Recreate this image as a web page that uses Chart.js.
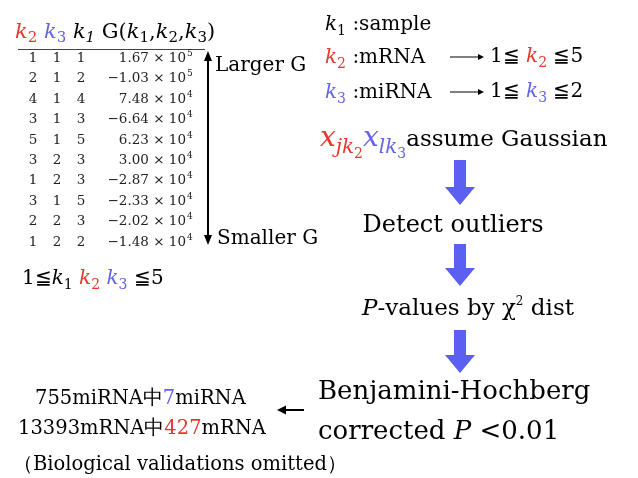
<!DOCTYPE html><html><head><meta charset="utf-8">
<script src="https://cdn.jsdelivr.net/npm/chart.js@4"></script>
<style>html,body{margin:0;background:#fff}#w{width:638px;height:478px}</style></head><body>
<div id="w"><canvas id="c"></canvas></div>
<script>
const k2s=[1,2,4,3,5,3,1,3,2,1];
const k3s=[1,1,1,1,1,2,2,1,2,2];
const k1s=[1,2,4,3,5,3,3,5,3,2];
const mantissas=["1.67","\u22121.03","7.48","\u22126.64","6.23","3.00","\u22122.87","\u22122.33","\u22122.02","\u22121.48"];
const exponents=[5,5,4,4,4,4,4,4,4,4];
const RED="#e8362e",BLUE="#6464e6",ARW="#5b5ff2",SERIF="'DejaVu Serif','Liberation Serif',serif";
const plugin={id:'dia',afterDraw(ch){
 const c=ch.ctx,X=v=>ch.scales.x.getPixelForValue(v),Y=v=>ch.scales.y.getPixelForValue(v);
 c.save();c.textBaseline='alphabetic';
 function rich(x,y,segs,base){let cx=X(x);for(const s of segs){const sz=s[3]||base;c.font=(s[2]||'')+' '+sz+'px '+SERIF;c.fillStyle=s[1]||'#000';c.fillText(s[0],cx,Y(y)+(s[4]||0));cx+=c.measureText(s[0]).width;}return cx;}
 function width(segs,base){let w=0;for(const s of segs){c.font=(s[2]||'')+' '+(s[3]||base)+'px '+SERIF;w+=c.measureText(s[0]).width;}return w;}
 rich(15,38,[["k",RED,"italic"],["2",RED,"",15,4],[" "],["k",BLUE,"italic"],["3",BLUE,"",15,4],[" "],["k",null,"italic"],["1",null,"italic",15,4],[" G("],["k",null,"italic"],["1",null,"",15,4],[","],["k",null,"italic"],["2",null,"",15,4],[","],["k",null,"italic"],["3",null,"",15,4],[")"]],21);
 c.strokeStyle='#444';c.lineWidth=1;c.beginPath();c.moveTo(X(18),Y(49.5));c.lineTo(X(205),Y(49.5));c.stroke();
 for(let i=0;i<k2s.length;i++){const y=62+i*20.4;c.font='13.5px '+SERIF;c.fillStyle='#222';c.textAlign='center';
  c.fillText(k2s[i],X(33),Y(y));c.fillText(k3s[i],X(57),Y(y));c.fillText(k1s[i],X(81),Y(y));
  c.textAlign='right';c.fillText(mantissas[i]+" \u00d7 10",X(186),Y(y));c.font='9px '+SERIF;c.textAlign='left';c.fillText(exponents[i],X(187),Y(y-6));}
 c.textAlign='left';
 c.strokeStyle='#000';c.fillStyle='#000';c.lineWidth=2;c.beginPath();c.moveTo(X(208),Y(58));c.lineTo(X(208),Y(238));c.stroke();
 c.beginPath();c.moveTo(X(208),Y(51));c.lineTo(X(204),Y(61));c.lineTo(X(212),Y(61));c.fill();
 c.beginPath();c.moveTo(X(208),Y(245));c.lineTo(X(204),Y(235));c.lineTo(X(212),Y(235));c.fill();
 rich(215,71,[["Larger G"]],20);rich(217,244,[["Smaller G"]],20);
 rich(22,284,[["1\u2266"],["k",null,"italic"],["1",null,"",14,5],[" "],["k",RED,"italic"],["2",RED,"",14,5],[" "],["k",BLUE,"italic"],["3",BLUE,"",14,5],[" \u22665"]],20);
 rich(325,30,[["k",null,"italic"],["1",null,"",14,5],[" :sample"]],20);
 rich(325,63,[["k",RED,"italic"],["2",RED,"",14,5],[" :mRNA"]],20);
 rich(325,98,[["k",BLUE,"italic"],["3",BLUE,"",14,5],[" :miRNA"]],20);
 function harrow(x1,x2,y,lw,h){c.strokeStyle='#000';c.fillStyle='#000';c.lineWidth=lw;c.beginPath();c.moveTo(X(x1),Y(y));c.lineTo(X(x2)-(x2>x1?h:-h),Y(y));c.stroke();
  const d=x2>x1?-h:h;c.beginPath();c.moveTo(X(x2),Y(y));c.lineTo(X(x2)+d,Y(y)-h/2);c.lineTo(X(x2)+d,Y(y)+h/2);c.fill();}
 harrow(450,484,57,1,6);harrow(450,484,92,1,6);
 rich(490,62,[["1\u2266 "],["k",RED,"italic"],["2",RED,"",14,5],[" \u22665"]],20);
 rich(490,97,[["1\u2266 "],["k",BLUE,"italic"],["3",BLUE,"",14,5],[" \u22662"]],20);
 rich(320,146,[["x",RED,"italic",28],["jk",RED,"italic",20,7],["2",RED,"",14,12],["x",BLUE,"italic",28],["lk",BLUE,"italic",20,7],["3",BLUE,"",14,12],["assume Gaussian",null,"",23]],23);
 function darrow(x,y1,y2){c.fillStyle=ARW;c.beginPath();c.moveTo(X(x-6),Y(y1));c.lineTo(X(x+6),Y(y1));c.lineTo(X(x+6),Y(y2-18));c.lineTo(X(x+15),Y(y2-18));c.lineTo(X(x),Y(y2));c.lineTo(X(x-15),Y(y2-18));c.lineTo(X(x-6),Y(y2-18));c.closePath();c.fill();}
 darrow(460,160,205);darrow(460,244,286);darrow(460,330,373);
 function center(cx,y,segs,base){rich(cx-width(segs,base)/2,y,segs,base);}
 center(453,232,[["Detect outliers"]],24);
 center(468,315,[["P","","italic"],["-values by \u03c7"],["2",null,"",12,-10],[" dist"]],23);
 rich(318,399,[["Benjamini-Hochberg"]],26);
 rich(318,439,[["corrected "],["P",null,"italic"],[" <0.01"]],26);
 rich(35,404,[["755miRNA\u4e2d"],["7",BLUE],["miRNA"]],19.5);
 rich(18,434,[["13393mRNA\u4e2d"],["427",RED],["mRNA"]],19.5);
 harrow(304,277,410,2,9);
 rich(13,470,[["\uff08Biological validations omitted\uff09"]],19.5);
 c.restore();}};
new Chart(document.getElementById('c'),{type:'scatter',data:{datasets:[{data:[]}]},plugins:[plugin],
 options:{responsive:true,maintainAspectRatio:false,animation:false,layout:{padding:0},
 plugins:{legend:{display:false},tooltip:{enabled:false}},
 scales:{x:{type:'linear',min:0,max:638,display:false},y:{type:'linear',min:0,max:478,reverse:true,display:false}}}});
</script></body></html>
